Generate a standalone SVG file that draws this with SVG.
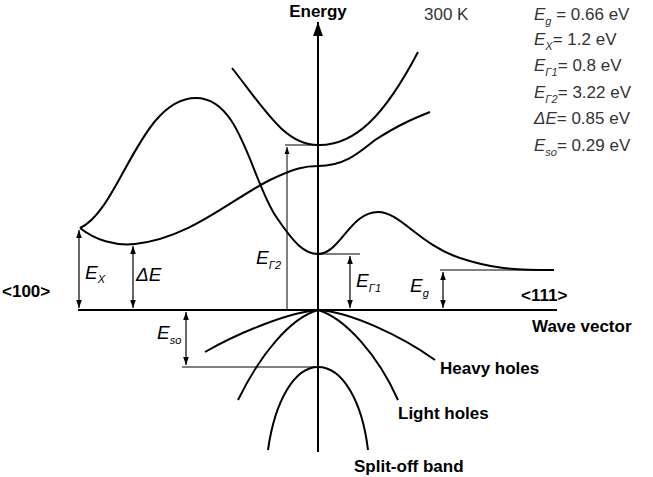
<svg xmlns="http://www.w3.org/2000/svg" width="653" height="477" viewBox="0 0 653 477">
<defs>
<marker id="a" viewBox="0 0 10 10" refX="10" refY="5" markerWidth="7" markerHeight="7" orient="auto-start-reverse"><path d="M0,1.5 L10,5 L0,8.5 z" fill="#000"/></marker>
<style>
.c{fill:none;stroke:#000;stroke-width:2}
.t{fill:none;stroke:#000;stroke-width:1}
.d{fill:none;stroke:#000;stroke-width:1.2;marker-start:url(#a);marker-end:url(#a)}
text{font-family:"Liberation Sans",Arial,sans-serif;font-size:17px;fill:#000}
.b{font-weight:bold}
.g{fill:#333}
.i{font-style:italic;font-size:19px}
.s{font-size:11px;font-style:italic}
</style>
</defs>
<rect width="653" height="477" fill="#fff"/>
<g id="axes">
<line x1="318" y1="452" x2="318" y2="22" class="c" marker-end="url(#a)"/>
<line x1="78" y1="310" x2="557" y2="310" class="c"/>
</g>
<g id="bands">
<path class="c" d="M232,68 C265,110 285,145 318,145 C355,146 385,115 418,52"/>
<path class="c" d="M80,228 C95,240 115,246 135,244 C190,238 230,200 270,180 C295,168 305,166 318,166 C345,166 360,152 375,140 C400,124 415,118 430,112"/>
<path class="c" d="M80,228 C120,210 140,98 196,98 C240,98 250,175 275,215 C295,245 305,254 318,254 C340,254 350,212 378,212 C400,212 420,245 460,258 C490,268 510,270 554,270"/>
<path class="c" d="M205,352 C240,332 290,312 318,310 C350,312 400,335 435,360"/>
<path class="c" d="M238,400 C260,355 290,318 318,310 C345,318 378,355 398,400"/>
<path class="c" d="M268,450 C275,400 295,367 318,367 C342,367 362,400 368,450"/>
</g>
<g id="connectors">
<line class="t" x1="285" y1="145" x2="318" y2="145"/>
<line class="t" x1="318" y1="254" x2="360" y2="254"/>
<line class="t" x1="440" y1="270" x2="554" y2="270"/>
<line class="t" x1="182" y1="367" x2="318" y2="367"/>
<line x1="287" y1="310" x2="287" y2="147" class="t" marker-end="url(#a)"/>
<line x1="79" y1="230" x2="79" y2="308" class="d"/>
<line x1="133" y1="246" x2="133" y2="308" class="d"/>
<line x1="350" y1="256" x2="350" y2="308" class="d"/>
<line x1="443" y1="272" x2="443" y2="308" class="d"/>
<line x1="186" y1="312" x2="186" y2="365" class="d"/>
</g>
<g id="labels">
<text x="318" y="17" text-anchor="middle" class="b">Energy</text>
<text x="532" y="332" class="b">Wave vector</text>
<text x="2" y="297" class="b">&lt;100&gt;</text>
<text x="521" y="301" class="b">&lt;111&gt;</text>
<text x="440" y="374" class="b">Heavy holes</text>
<text x="398" y="419" class="b">Light holes</text>
<text x="354" y="472" class="b">Split-off band</text>
<text x="85" y="279" class="i">E<tspan class="s" dy="4">X</tspan></text>
<text x="136" y="281" class="i">ΔE</text>
<text x="256" y="264" class="i">E<tspan class="s" dy="5">Γ2</tspan></text>
<text x="356" y="287" class="i">E<tspan class="s" dy="5">Γ1</tspan></text>
<text x="410" y="292" class="i">E<tspan class="s" dy="5">g</tspan></text>
<text x="157" y="339" class="i">E<tspan class="s" dy="5">so</tspan></text>
</g>
<g id="legend" class="g">
<text x="424" y="20" class="g">300 K</text>
<text x="534" y="20" class="g"><tspan font-style="italic">E</tspan><tspan class="s" dy="5">g</tspan><tspan dy="-5"> = 0.66 eV</tspan></text>
<text x="534" y="45" class="g"><tspan font-style="italic">E</tspan><tspan class="s" dy="5">X</tspan><tspan dy="-5">= 1.2 eV</tspan></text>
<text x="534" y="71" class="g"><tspan font-style="italic">E</tspan><tspan class="s" dy="5">Γ1</tspan><tspan dy="-5">= 0.8 eV</tspan></text>
<text x="534" y="98" class="g"><tspan font-style="italic">E</tspan><tspan class="s" dy="5">Γ2</tspan><tspan dy="-5">= 3.22 eV</tspan></text>
<text x="534" y="124" class="g"><tspan font-style="italic">ΔE</tspan>= 0.85 eV</text>
<text x="534" y="151" class="g"><tspan font-style="italic">E</tspan><tspan class="s" dy="5">so</tspan><tspan dy="-5">= 0.29 eV</tspan></text>
</g>
</svg>
